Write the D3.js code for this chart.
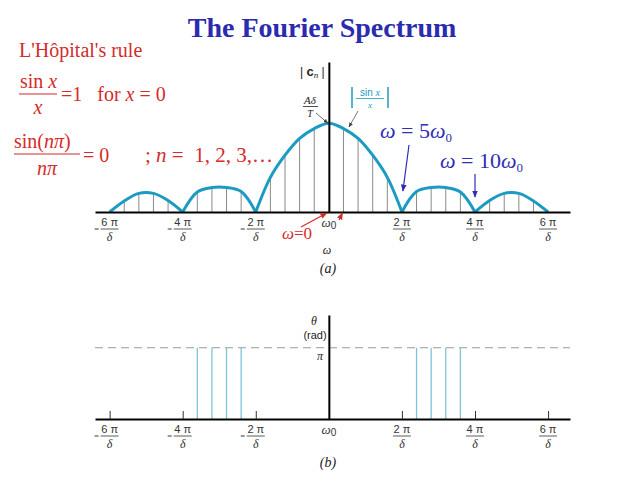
<!DOCTYPE html>
<html>
<head>
<meta charset="utf-8">
<script src="https://cdn.jsdelivr.net/npm/d3@7"></script>
<style>
  body { margin: 0; background: #fff; }
  text { white-space: pre; }
</style>
</head>
<body>
<div id="chart"></div>
<script>
// harmonic magnitudes |c_n| (relative to A*delta/T) for n = 0..15
const magnitude = [1.00, 0.94, 0.83, 0.64, 0.39, 0, 0.23, 0.275, 0.275, 0.225, 0, 0.13, 0.21, 0.21, 0.125, 0];
// phase in units of pi for n = 0..15
const phase = [0, 0, 0, 0, 0, 0, 1, 1, 1, 1, 0, 0, 0, 0, 0, 0];
// ticks in units of 2*pi/delta (= 5 harmonics)
const tickUnits = [-3, -2, -1, 0, 1, 2, 3];
const tickNumerators = ['6 π', '4 π', '2 π', '', '2 π', '4 π', '6 π'];
// zero crossings split the envelope into lobes
const lobeBreaks = [-15, -10, -5, 5, 10, 15];

const W = 638, H = 478;
const red = '#d42b2b', blue = '#2e2eb4', teal = '#1b9bc2', serif = 'Liberation Serif, Times New Roman, serif', sans = 'Liberation Sans, Arial, sans-serif';

const harmonics = [];
magnitude.forEach((m, n) => {
    harmonics.push({n: n, mag: m, ph: phase[n]});
    if (n > 0) harmonics.unshift({n: -n, mag: m, ph: phase[n]});
});

const svg = d3.select('#chart').append('svg')
    .attr('width', W).attr('height', H);

const defs = svg.append('defs');
function marker(id, color) {
    defs.append('marker').attr('id', id)
        .attr('viewBox', '0 0 10 10').attr('refX', 9).attr('refY', 5)
        .attr('markerWidth', 6).attr('markerHeight', 6).attr('orient', 'auto')
        .append('path').attr('d', 'M0,1L10,5L0,9z').attr('fill', color);
}
marker('arB', blue); marker('arR', red); marker('arK', '#444');

const x = d3.scaleLinear().domain([-16, 16.5]).range([95, 570]);
const yMag = d3.scaleLinear().domain([0, 1.69]).range([212, 62]);
const yPh = d3.scaleLinear().domain([0, 1.46]).range([419, 315]);

// title
svg.append('text').attr('x', 322).attr('y', 37).attr('text-anchor', 'middle')
    .attr('font-family', serif).attr('font-weight', 'bold').attr('font-size', 28)
    .attr('fill', '#2b2bb0').text('The Fourier Spectrum');

// ---- red notes on the left
const notes = svg.append('g').attr('fill', red).attr('font-family', serif).attr('font-size', 20);
notes.append('text').attr('x', 19).attr('y', 57).attr('font-size', 20).text("L'Hôpital's rule");
let t = notes.append('text').attr('x', 20).attr('y', 88);
t.append('tspan').text('sin ');
t.append('tspan').attr('font-style', 'italic').text('x');
notes.append('line').attr('x1', 19).attr('x2', 57).attr('y1', 94).attr('y2', 94).attr('stroke', red).attr('stroke-width', 1.2);
notes.append('text').attr('x', 38).attr('y', 114).attr('text-anchor', 'middle').attr('font-style', 'italic').text('x');
t = notes.append('text').attr('x', 61).attr('y', 101);
t.append('tspan').text('=1   for ');
t.append('tspan').attr('font-style', 'italic').text('x');
t.append('tspan').text(' = 0');

t = notes.append('text').attr('x', 14).attr('y', 148);
t.append('tspan').text('sin(');
t.append('tspan').attr('font-style', 'italic').text('nπ');
t.append('tspan').text(')');
notes.append('line').attr('x1', 14).attr('x2', 80).attr('y1', 154).attr('y2', 154).attr('stroke', red).attr('stroke-width', 1.2);
notes.append('text').attr('x', 47).attr('y', 175).attr('text-anchor', 'middle').attr('font-style', 'italic').text('nπ');
notes.append('text').attr('x', 83).attr('y', 162).text('= 0');
t = notes.append('text').attr('x', 145).attr('y', 162).attr('font-size', 21);
t.append('tspan').text('; ');
t.append('tspan').attr('font-style', 'italic').text('n');
t.append('tspan').text(' =  1, 2, 3,…');

// ---- tick labels as fractions
function fractionTicks(g, axisY) {
    tickUnits.forEach((u, i) => {
        const cx = x(u * 5);
        const lab = g.append('g').attr('fill', '#333');
        if (u === 0) {
            const w = lab.append('text').attr('x', cx).attr('y', axisY + 15).attr('text-anchor', 'middle');
            w.append('tspan').attr('font-family', serif).attr('font-style', 'italic').attr('font-size', 13).text('ω');
            w.append('tspan').attr('font-family', sans).attr('font-size', 10).attr('dy', 2).text('0');
            return;
        }
        lab.append('text').attr('x', cx).attr('y', axisY + 14).attr('text-anchor', 'middle')
            .attr('font-family', sans).attr('font-size', 11).text(tickNumerators[i]);
        lab.append('line').attr('x1', cx - 9).attr('x2', cx + 9)
            .attr('y1', axisY + 17).attr('y2', axisY + 17).attr('stroke', '#333').attr('stroke-width', 0.8);
        lab.append('text').attr('x', cx).attr('y', axisY + 28.5).attr('text-anchor', 'middle')
            .attr('font-family', serif).attr('font-style', 'italic').attr('font-size', 12).text('δ');
        if (u < 0) {
            lab.append('line').attr('x1', cx - 15).attr('x2', cx - 11)
                .attr('y1', axisY + 17).attr('y2', axisY + 17).attr('stroke', '#333').attr('stroke-width', 1);
        }
    });
}

// ---- (a) magnitude spectrum
const topG = svg.append('g');
topG.selectAll('line.stem').data(harmonics.filter(d => d.n !== 0 && d.mag > 0))
    .join('line').attr('class', 'stem')
    .attr('x1', d => x(d.n)).attr('x2', d => x(d.n))
    .attr('y1', yMag(0)).attr('y2', d => yMag(d.mag))
    .attr('stroke', '#8a8a8a').attr('stroke-width', 1);

const env = d3.line().x(d => x(d.n)).y(d => yMag(d.mag)).curve(d3.curveCatmullRom.alpha(0.5));
for (let i = 0; i < lobeBreaks.length - 1; i++) {
    const pts = harmonics.filter(d => d.n >= lobeBreaks[i] && d.n <= lobeBreaks[i + 1]);
    topG.append('path').attr('d', env(pts)).attr('fill', 'none')
        .attr('stroke', teal).attr('stroke-width', 3);
}

topG.append('g').attr('transform', `translate(0,${yMag(0)})`)
    .call(d3.axisBottom(x).tickValues([]).tickSizeOuter(0))
    .select('.domain').attr('stroke', '#000').attr('stroke-width', 2);
topG.append('g').attr('transform', `translate(${x(0)},0)`)
    .call(d3.axisLeft(yMag).tickValues([]).tickSizeOuter(0))
    .select('.domain').attr('stroke', '#000').attr('stroke-width', 2);
fractionTicks(topG, yMag(0));

// labels on (a)
t = topG.append('text').attr('x', 300).attr('y', 76).attr('fill', '#222');
t.append('tspan').attr('font-family', sans).attr('font-size', 12).text('| ');
t.append('tspan').attr('font-family', sans).attr('font-weight', 'bold').attr('font-size', 13).text('c');
t.append('tspan').attr('font-family', serif).attr('font-style', 'italic').attr('font-size', 9).attr('dy', 2).text('n');
t.append('tspan').attr('font-family', sans).attr('font-size', 12).attr('dy', -2).text(' |');

topG.append('text').attr('x', 310).attr('y', 104).attr('text-anchor', 'middle')
    .attr('font-family', serif).attr('font-style', 'italic').attr('font-size', 11).attr('fill', '#222').text('Aδ');
topG.append('line').attr('x1', 303).attr('x2', 318).attr('y1', 106.5).attr('y2', 106.5).attr('stroke', '#222').attr('stroke-width', 0.8);
topG.append('text').attr('x', 310).attr('y', 116.5).attr('text-anchor', 'middle')
    .attr('font-family', serif).attr('font-style', 'italic').attr('font-size', 10).attr('fill', '#222').text('T');
topG.append('line').attr('x1', 316).attr('y1', 113).attr('x2', x(0) - 1).attr('y2', yMag(1))
    .attr('stroke', '#444').attr('stroke-width', 0.8).attr('marker-end', 'url(#arK)');

const sx = topG.append('g').attr('fill', teal);
sx.append('line').attr('x1', 352).attr('x2', 352).attr('y1', 87).attr('y2', 108).attr('stroke', teal).attr('stroke-width', 1.5);
sx.append('line').attr('x1', 388).attr('x2', 388).attr('y1', 87).attr('y2', 108).attr('stroke', teal).attr('stroke-width', 1.5);
t = sx.append('text').attr('x', 370).attr('y', 96).attr('text-anchor', 'middle').attr('font-size', 10);
t.append('tspan').attr('font-family', sans).text('sin ');
t.append('tspan').attr('font-family', serif).attr('font-style', 'italic').text('x');
sx.append('line').attr('x1', 356).attr('x2', 384).attr('y1', 98.5).attr('y2', 98.5).attr('stroke', teal).attr('stroke-width', 0.8);
sx.append('text').attr('x', 370).attr('y', 107.5).attr('text-anchor', 'middle')
    .attr('font-family', serif).attr('font-style', 'italic').attr('font-size', 9).text('x');
topG.append('line').attr('x1', 358).attr('y1', 111).attr('x2', 349).attr('y2', 127)
    .attr('stroke', '#555').attr('stroke-width', 0.8).attr('marker-end', 'url(#arK)');

// blue omega annotations
function omegaLabel(xp, yp, k) {
    const o = topG.append('text').attr('x', xp).attr('y', yp).attr('fill', blue)
        .attr('font-family', serif).attr('font-size', 22);
    o.append('tspan').attr('font-style', 'italic').text('ω');
    o.append('tspan').text(' = ' + k);
    o.append('tspan').attr('font-style', 'italic').text('ω');
    o.append('tspan').attr('font-size', 13).attr('dy', 4).text('0');
}
omegaLabel(380, 138, '5');
omegaLabel(440, 168, '10');
topG.append('line').attr('x1', 409).attr('y1', 145).attr('x2', x(5) + 1).attr('y2', 191)
    .attr('stroke', blue).attr('stroke-width', 1.2).attr('marker-end', 'url(#arB)');
topG.append('line').attr('x1', x(10)).attr('y1', 174).attr('x2', x(10)).attr('y2', 197)
    .attr('stroke', blue).attr('stroke-width', 1.2).attr('marker-end', 'url(#arB)');

// red omega = 0 annotation
t = topG.append('text').attr('x', 282).attr('y', 239).attr('fill', red)
    .attr('font-family', serif).attr('font-size', 17);
t.append('tspan').attr('font-style', 'italic').text('ω');
t.append('tspan').text('=0');
topG.append('line').attr('x1', 301).attr('y1', 227).attr('x2', x(0) - 2).attr('y2', yMag(0) + 1)
    .attr('stroke', red).attr('stroke-width', 1.2).attr('marker-end', 'url(#arR)');
topG.append('line').attr('x1', 339).attr('y1', 220).attr('x2', x(1) - 1).attr('y2', yMag(0) + 1)
    .attr('stroke', red).attr('stroke-width', 1.2).attr('marker-end', 'url(#arR)');

topG.append('text').attr('x', 327).attr('y', 254).attr('text-anchor', 'middle')
    .attr('font-family', serif).attr('font-style', 'italic').attr('font-size', 12).attr('fill', '#222').text('ω');
topG.append('text').attr('x', 328).attr('y', 273).attr('text-anchor', 'middle')
    .attr('font-family', serif).attr('font-style', 'italic').attr('font-size', 14).attr('fill', '#222').text('(a)');

// ---- (b) phase spectrum
const botG = svg.append('g');
botG.append('line').attr('x1', x.range()[0]).attr('x2', x.range()[1])
    .attr('y1', yPh(1)).attr('y2', yPh(1))
    .attr('stroke', '#9a9a9a').attr('stroke-width', 1.2).attr('stroke-dasharray', '8,5');
botG.selectAll('line.ph').data(harmonics.filter(d => d.ph > 0))
    .join('line').attr('class', 'ph')
    .attr('x1', d => x(d.n)).attr('x2', d => x(d.n))
    .attr('y1', yPh(0)).attr('y2', d => yPh(d.ph))
    .attr('stroke', '#7fc3d8').attr('stroke-width', 1.3);

const bx = botG.append('g').attr('transform', `translate(0,${yPh(0)})`)
    .call(d3.axisBottom(x).tickValues(tickUnits.filter(u => u !== 0).map(u => u * 5))
        .tickSizeInner(-8).tickSizeOuter(0).tickFormat(''));
bx.select('.domain').attr('stroke', '#000').attr('stroke-width', 2);
bx.selectAll('.tick line').attr('stroke', '#333').attr('stroke-width', 1);
botG.append('g').attr('transform', `translate(${x(0)},0)`)
    .call(d3.axisLeft(yPh).tickValues([]).tickSizeOuter(0))
    .select('.domain').attr('stroke', '#000').attr('stroke-width', 2);
fractionTicks(botG, yPh(0));

botG.append('text').attr('x', 314).attr('y', 325).attr('text-anchor', 'middle')
    .attr('font-family', serif).attr('font-style', 'italic').attr('font-size', 12).attr('fill', '#222').text('θ');
botG.append('text').attr('x', 315).attr('y', 339).attr('text-anchor', 'middle')
    .attr('font-family', sans).attr('font-size', 11).attr('fill', '#222').text('(rad)');
botG.append('text').attr('x', 320).attr('y', 360).attr('text-anchor', 'middle')
    .attr('font-family', serif).attr('font-style', 'italic').attr('font-size', 12).attr('fill', '#222').text('π');
botG.append('text').attr('x', 328).attr('y', 467).attr('text-anchor', 'middle')
    .attr('font-family', serif).attr('font-style', 'italic').attr('font-size', 14).attr('fill', '#222').text('(b)');
</script>
</body>
</html>
